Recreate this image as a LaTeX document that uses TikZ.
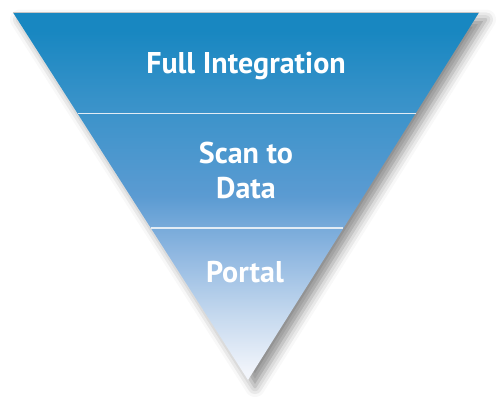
\documentclass[tikz,border=0pt]{standalone}
\usepackage{fontspec}
\setmainfont{PT Sans}
\usetikzlibrary{calc,shadows.blur}
\definecolor{cTop}{HTML}{1887C1}
\definecolor{cA}{HTML}{3892C9}
\definecolor{cB}{HTML}{5B9BD2}
\definecolor{cC}{HTML}{8DB6E0}
\definecolor{cD}{HTML}{C4D8EE}
\definecolor{cBot}{HTML}{F2F5FB}
\definecolor{sepline}{HTML}{E2ECF5}
\pgfdeclareverticalshading{funnelshade}{100bp}{color(0bp)=(cBot); color(26bp)=(cBot); color(34bp)=(cD); color(42.6bp)=(cC); color(50bp)=(cB); color(63bp)=(cA); color(72.5bp)=(cTop); color(100bp)=(cTop)}
\tikzset{
  label/.style={text=white, font=\fontsize{30}{35}\selectfont\bfseries, align=center, inner sep=0pt},
  sep/.style={draw=sepline, line width=1.5pt},
}
\begin{document}
\begin{tikzpicture}[x=1pt,y=-1pt]
\useasboundingbox (0,0) rectangle (500,412);
\coordinate (L) at (13,12.5);
\coordinate (R) at (479,12.5);
\coordinate (B) at (248,380);
\path[shading=funnelshade, blur shadow={shadow xshift=7pt, shadow yshift=-7pt, shadow blur radius=10pt, shadow opacity=45}] (L) -- (R) -- (B) -- cycle;
\draw[gray!45, line width=0.8pt] (L) -- (R);
\coordinate (s1l) at ($(L)!0.2745!(B)$);
\coordinate (s1r) at ($(R)!0.2745!(B)$);
\coordinate (s2l) at ($(L)!0.587!(B)$);
\coordinate (s2r) at ($(R)!0.587!(B)$);
\draw[sep] (s1l) -- (s1r);
\draw[sep] (s2l) -- (s2r);
\node[label] (full) at (246,66) {Full Integration};
\node[label] (scan) at (246,170) {Scan to\\Data};
\node[label] (portal) at (245,272) {Portal};
\end{tikzpicture}
\end{document}
